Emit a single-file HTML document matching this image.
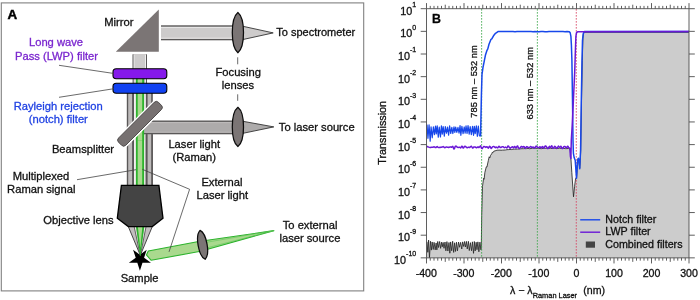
<!DOCTYPE html>
<html lang="en">
<head>
<meta charset="utf-8">
<title>Multiplexed Raman setup and filter transmission</title>
<style>
html,body{margin:0;padding:0;background:#fff;}
body{width:700px;height:300px;overflow:hidden;}
svg{display:block;font-family:"Liberation Sans",sans-serif;}
</style>
</head>
<body>
<svg width="700" height="300" viewBox="0 0 700 300">
<rect width="700" height="300" fill="#fff"/>
<g id="panelA" transform="translate(0 0.3)">
<rect x="1.3" y="2.6" width="362.4" height="288" fill="#fff" stroke="#808080" stroke-width="1.1"/>
<text x="7.6" y="18.6" font-size="13.4" font-weight="bold" fill="#000" stroke="#000" stroke-width="0.45">A</text>
<rect x="161" y="25" width="75" height="15" fill="#5a5858"/><rect x="161" y="26.4" width="75" height="12.2" fill="#e9e8e8"/><rect x="161" y="27.6" width="75" height="9.8" fill="#cdcbcb"/>
<path d="M243 26 L273.2 32.6 L243 39.2 Z" fill="#cdcbcb" stroke="#333" stroke-width="0.9" stroke-linejoin="round"/>
<path d="M237.9 12.1 C245.37 18.16 245.37 46.44 237.9 52.5 C230.43 46.44 230.43 18.16 237.9 12.1 Z" fill="#7b7575" stroke="#0c0c0c" stroke-width="1.25" stroke-linejoin="round"/>
<path d="M158.8 9.3 L158.8 51.4 L115.8 51.4 Z" fill="#7b7575"/>
<rect x="132.55" y="54" width="14.4" height="16" fill="#4a4848"/><rect x="133.45" y="54" width="12.6" height="16" fill="#f1f0f0"/><rect x="134.45" y="54" width="10.6" height="16" fill="#cdcbcb"/>
<rect x="132.6" y="77" width="14.4" height="8" fill="#fff"/>
<rect x="132.6" y="77" width="1.1" height="8" fill="#5a5858"/><rect x="145.9" y="77" width="1.1" height="8" fill="#5a5858"/>
<rect x="134.6" y="77" width="0.7" height="8" fill="#aaa"/><rect x="144.3" y="77" width="0.7" height="8" fill="#aaa"/>
<rect x="135.9" y="77" width="8.2" height="8" fill="#2db32d"/><rect x="137.7" y="77" width="4.5" height="8" fill="#a9d98e"/>
<rect x="126.8" y="92" width="7.2" height="94" fill="#5a5858"/><rect x="128.2" y="92" width="3.9" height="94" fill="#bdbaba"/><rect x="145.6" y="92" width="7.2" height="94" fill="#5a5858"/><rect x="147.6" y="92" width="3.6" height="94" fill="#bdbaba"/><rect x="134" y="92" width="11.6" height="94" fill="#f4eef0"/><rect x="135.9" y="92" width="8.2" height="94" fill="#2db32d"/><rect x="137.7" y="92" width="4.5" height="94" fill="#a9d98e"/>
<rect x="140" y="120.2" width="96" height="13.8" fill="#5a5858"/><rect x="140" y="121.6" width="96" height="11" fill="#bcbaba"/><rect x="140" y="122.8" width="96" height="8.6" fill="#adabab"/>
<path d="M243 121 L273.8 126.6 L243 133 Z" fill="#adabab" stroke="#333" stroke-width="0.9" stroke-linejoin="round"/>
<path d="M237.9 107 C245.37 112.88 245.37 140.32 237.9 146.2 C230.43 140.32 230.43 112.88 237.9 107 Z" fill="#7b7575" stroke="#0c0c0c" stroke-width="1.25" stroke-linejoin="round"/>
<rect x="145.6" y="134" width="7.2" height="52" fill="#5a5858"/><rect x="147.6" y="134" width="3.6" height="52" fill="#bdbaba"/>
<rect x="135.9" y="118" width="8.2" height="22" fill="#2db32d"/><rect x="137.7" y="118" width="4.5" height="22" fill="#a9d98e"/>
<rect x="113" y="68.5" width="53.8" height="10" rx="3.2" fill="#8519ea" stroke="#000" stroke-width="1.1"/>
<rect x="113" y="83" width="53.8" height="10" rx="3.2" fill="#1142f2" stroke="#000" stroke-width="1.1"/>
<g transform="translate(140.0 123.5) rotate(-45)"><rect x="-28.2" y="-5.1" width="56.4" height="10.2" rx="3" fill="#7b7575" stroke="#fff" stroke-width="3.4"/><rect x="-28.2" y="-5.1" width="56.4" height="10.2" rx="3" fill="#777171" stroke="#4c4848" stroke-width="0.9"/></g>
<path d="M128.2 226 L152.4 226 L140.3 255 Z" fill="#c2bfbf" stroke="#333" stroke-width="0.9" stroke-linejoin="round"/>
<path d="M134.3 226 L135.9 226 L140.3 255 Z M144.3 226 L145.9 226 L140.3 255 Z" fill="#f4eef0"/>
<path d="M134.1 226 L140.1 254.5 M146.1 226 L140.5 254.5" stroke="#4a4848" stroke-width="0.8" fill="none"/>
<path d="M135.9 226 L144.4 226 L140.3 256 Z" fill="#2db32d"/>
<path d="M137.8 226 L142.4 226 L140.3 248 Z" fill="#a9d98e"/>
<path d="M121.4 185 L158.9 185 L163 218 L152.3 226.3 L128.3 226.3 L117.3 218 Z" fill="#444" stroke="#000" stroke-width="1.3" stroke-linejoin="miter"/>
<path d="M148.3 250.7 L198.6 241.2 L273.9 230.3 L200.6 251 L151.2 260 L146.4 254.6 Z" fill="#a9d98e" stroke="#2db32d" stroke-width="1.1" stroke-linejoin="round"/>
<path d="M203 242.6 L273.9 230.3 L203 248.6" fill="none" stroke="#5fc45a" stroke-width="0.6"/>
<path d="M202.6 229.8 C208.6 234.21 208.6 254.79 202.6 259.2 C196.6 254.79 196.6 234.21 202.6 229.8 Z" fill="#7b7575" stroke="#0c0c0c" stroke-width="1.25" stroke-linejoin="round" transform="rotate(-10 202.7 244.5)"/>
<path d="M139.9 270.4 L137.31 262.36 L128.87 262.38 L135.72 257.44 L133.08 249.42 L139.9 254.4 L146.72 249.42 L144.08 257.44 L150.93 262.38 L142.49 262.36 Z" fill="#000"/>
<path d="M140.3 247 L140.3 255.5" stroke="#2db32d" stroke-width="1"/>
<g stroke="#444" stroke-width="0.8" fill="none"><path d="M59 65 L114 73.2"/><path d="M59 97 L114 88.4"/><path d="M77 179.4 L136 169.4"/><path d="M142.3 169 L189.6 189 L169 251.6"/><path d="M237.7 57 L237.7 64"/><path d="M237.7 94 L237.7 100.5"/></g>
<g id="panelA-labels" stroke-width="0.3">
<text x="104.2" y="25.8" text-anchor="start" fill="#111" stroke="#111" font-size="11.2">Mirror</text>
<text x="276.3" y="36" text-anchor="start" fill="#111" stroke="#111" font-size="11.0">To spectrometer</text>
<text x="56" y="46" text-anchor="middle" fill="#7b27cf" stroke="#7b27cf" font-size="11.2">Long wave</text>
<text x="56.5" y="59.4" text-anchor="middle" fill="#7b27cf" stroke="#7b27cf" font-size="11.2">Pass (LWP) filter</text>
<text x="58.2" y="109.6" text-anchor="middle" fill="#2143e3" stroke="#2143e3" font-size="11.2">Rayleigh rejection</text>
<text x="58.3" y="123.2" text-anchor="middle" fill="#2143e3" stroke="#2143e3" font-size="11.2">(notch) filter</text>
<text x="238.2" y="76" text-anchor="middle" fill="#111" stroke="#111" font-size="11.2">Focusing</text>
<text x="238" y="89" text-anchor="middle" fill="#111" stroke="#111" font-size="11.2">lenses</text>
<text x="278.8" y="130.4" text-anchor="start" fill="#111" stroke="#111" font-size="11.2">To laser source</text>
<text x="83" y="152.6" text-anchor="middle" fill="#111" stroke="#111" font-size="11.2">Beamsplitter</text>
<text x="194.2" y="147.4" text-anchor="middle" fill="#111" stroke="#111" font-size="11.2">Laser light</text>
<text x="194.2" y="160.9" text-anchor="middle" fill="#111" stroke="#111" font-size="11.2">(Raman)</text>
<text x="41" y="179.4" text-anchor="middle" fill="#111" stroke="#111" font-size="11.2">Multiplexed</text>
<text x="41.3" y="193" text-anchor="middle" fill="#111" stroke="#111" font-size="11.2">Raman signal</text>
<text x="221.9" y="186.1" text-anchor="middle" fill="#111" stroke="#111" font-size="11.2">External</text>
<text x="222.3" y="199.2" text-anchor="middle" fill="#111" stroke="#111" font-size="11.2">Laser light</text>
<text x="78.5" y="223.5" text-anchor="middle" fill="#111" stroke="#111" font-size="11.2">Objective lens</text>
<text x="310.1" y="228.7" text-anchor="middle" fill="#111" stroke="#111" font-size="11.2">To external</text>
<text x="309.9" y="242" text-anchor="middle" fill="#111" stroke="#111" font-size="11.2">laser source</text>
<text x="139.6" y="282.2" text-anchor="middle" fill="#111" stroke="#111" font-size="11.2">Sample</text>
</g>
</g>
<g id="panelB" transform="translate(0 0.3)">
<path d="M427 241.48 L427.81 252 L428.59 239.8 L429.49 257.3 L430.44 240.97 L431.36 249.82 L432.15 241.66 L433.23 249.18 L434.07 242.03 L435.2 249.55 L436.11 242.66 L436.87 249.59 L437.74 241.16 L438.54 247.22 L439.61 241.23 L440.6 248.05 L441.5 241.89 L442.27 246.49 L443.1 242.12 L444.02 248 L445.01 241.72 L445.88 250.52 L446.91 241.34 L447.89 250.73 L448.99 242.21 L449.85 252.92 L450.65 241.65 L451.7 250.48 L452.65 240.97 L453.67 252.11 L454.65 242.48 L455.52 251.11 L456.51 241.94 L457.44 250.54 L458.57 241.75 L459.58 246.95 L460.62 242.06 L461.76 248.71 L462.63 241.59 L463.64 246.13 L464.58 241.2 L465.38 246.69 L466.43 241.13 L467.28 248.63 L468.38 241.05 L469.31 250.25 L470.41 242.37 L471.51 250.41 L472.42 241.55 L473.53 253.04 L474.34 241.22 L475.18 250.65 L476.13 241.96 L476.98 249.38 L477.9 241.56 L478.87 251.49 L479.9 241.83 L480.9 249.49 L481.3 246 L481.7 215 L482.5 186 L483.6 178 L484.1 179 L484.9 172 L486.3 166.5 L486.9 166.8 L488.4 160 L489.2 156.5 L489.8 157.6 L490.6 155 L491.7 153.6 L492.3 152 L493 152.4 L493.9 150.8 L495 150.6 L497 149.9 L500 149.8 L501 149.95 L502.5 149.81 L504 149.77 L505.5 149.66 L507 149.37 L508.5 149.3 L510 149.07 L511.5 149.26 L513 148.89 L514.5 148.81 L516 148.8 L517.5 148.7 L519 148.71 L520.5 148.49 L522 148.38 L523.5 148.38 L525 148.27 L526.5 148.32 L528 148.08 L529.5 148.42 L531 148.21 L532.5 147.92 L534 147.98 L535.5 148.02 L537 148.03 L538.5 147.91 L540 148.27 L541.5 148.35 L543 148.08 L544.5 148.09 L546 147.89 L547.5 147.9 L549 148.02 L550.5 147.98 L552 148.26 L553.5 147.93 L555 147.86 L556.5 148.33 L558 148.11 L559.5 147.92 L561 148.12 L562.5 147.86 L564 148.11 L565.5 148.34 L567 148.28 L568.5 148.2 L570.2 149 L570.9 158 L571.8 172 L573.5 196.5 L574.6 186 L575.6 178 L576.5 178.5 L577.4 166 L578 158.5 L578.8 160 L579.7 168 L580.3 160 L580.7 150 L581.5 100 L582.3 60 L582.9 38 L583.6 32.3 L585 32 L689 32 L689 257.55 L427 257.55 Z" fill="#cccccc"/>
<path d="M427 241.48 L427.81 252 L428.59 239.8 L429.49 257.3 L430.44 240.97 L431.36 249.82 L432.15 241.66 L433.23 249.18 L434.07 242.03 L435.2 249.55 L436.11 242.66 L436.87 249.59 L437.74 241.16 L438.54 247.22 L439.61 241.23 L440.6 248.05 L441.5 241.89 L442.27 246.49 L443.1 242.12 L444.02 248 L445.01 241.72 L445.88 250.52 L446.91 241.34 L447.89 250.73 L448.99 242.21 L449.85 252.92 L450.65 241.65 L451.7 250.48 L452.65 240.97 L453.67 252.11 L454.65 242.48 L455.52 251.11 L456.51 241.94 L457.44 250.54 L458.57 241.75 L459.58 246.95 L460.62 242.06 L461.76 248.71 L462.63 241.59 L463.64 246.13 L464.58 241.2 L465.38 246.69 L466.43 241.13 L467.28 248.63 L468.38 241.05 L469.31 250.25 L470.41 242.37 L471.51 250.41 L472.42 241.55 L473.53 253.04 L474.34 241.22 L475.18 250.65 L476.13 241.96 L476.98 249.38 L477.9 241.56 L478.87 251.49 L479.9 241.83 L480.9 249.49 L481.3 246 L481.7 215 L482.5 186 L483.6 178 L484.1 179 L484.9 172 L486.3 166.5 L486.9 166.8 L488.4 160 L489.2 156.5 L489.8 157.6 L490.6 155 L491.7 153.6 L492.3 152 L493 152.4 L493.9 150.8 L495 150.6 L497 149.9 L500 149.8 L501 149.95 L502.5 149.81 L504 149.77 L505.5 149.66 L507 149.37 L508.5 149.3 L510 149.07 L511.5 149.26 L513 148.89 L514.5 148.81 L516 148.8 L517.5 148.7 L519 148.71 L520.5 148.49 L522 148.38 L523.5 148.38 L525 148.27 L526.5 148.32 L528 148.08 L529.5 148.42 L531 148.21 L532.5 147.92 L534 147.98 L535.5 148.02 L537 148.03 L538.5 147.91 L540 148.27 L541.5 148.35 L543 148.08 L544.5 148.09 L546 147.89 L547.5 147.9 L549 148.02 L550.5 147.98 L552 148.26 L553.5 147.93 L555 147.86 L556.5 148.33 L558 148.11 L559.5 147.92 L561 148.12 L562.5 147.86 L564 148.11 L565.5 148.34 L567 148.28 L568.5 148.2 L570.2 149 L570.9 158 L571.8 172 L573.5 196.5 L574.6 186 L575.6 178 L576.5 178.5 L577.4 166 L578 158.5 L578.8 160 L579.7 168 L580.3 160 L580.7 150 L581.5 100 L582.3 60 L582.9 38 L583.6 32.3 L585 32 L689 32" fill="none" stroke="#262626" stroke-width="0.85" stroke-linejoin="round"/>
<path d="M481.6 8.9 V257.55" stroke="#3aa648" stroke-width="1.1" stroke-dasharray="1.2 1.8" fill="none"/>
<path d="M537.4 8.9 V257.55" stroke="#3aa648" stroke-width="1.1" stroke-dasharray="1.2 1.8" fill="none"/>
<path d="M576.3 8.9 V257.55" stroke="#d8405f" stroke-width="1.1" stroke-dasharray="1.2 1.8" fill="none"/>
<path d="M427 124.3 L427.95 138 L429.06 124.6 L430.17 140.8 L431.06 126.64 L432.25 137.5 L433.37 126.65 L434.47 134.35 L435.48 125.78 L436.29 133.69 L437.2 125.59 L438.28 136.8 L439.25 126.88 L440.45 136.65 L441.4 125.52 L442.29 133.89 L443.17 126.29 L444.33 135.83 L445.32 126.34 L446.44 132.97 L447.5 126.83 L448.62 134.92 L449.61 125.44 L450.72 133.22 L451.84 126.95 L452.8 133.23 L453.98 126.48 L454.85 132.13 L455.71 126.82 L456.83 132.11 L457.96 126.96 L459.03 132.8 L460.05 125.35 L460.85 134.98 L461.91 126.1 L463.08 133.33 L464.23 126.67 L465.12 132.93 L466.04 125.56 L467.07 133.21 L468.04 125.35 L469.2 133.83 L470.18 126.21 L471.35 134.36 L472.51 126.05 L473.53 134.98 L474.33 125.94 L475.21 133.39 L476.33 125.43 L477.32 135.99 L478.34 125.72 L479.35 135.48 L480.6 136" fill="none" stroke="#1747ea" stroke-width="1.2" stroke-linejoin="round"/>
<path d="M480.6 136 L480.9 120 L481.4 95 L482 74 L483 67 L484 62 L485.4 55 L487 50 L487.8 48.6 L489 44 L491 39 L491.8 38.6 L493.5 35.5 L495.5 33 L498 31.3 L499 31.16 L501 31.26 L503 31.19 L505 31.2 L507 31.32 L509 31.25 L511 31.26 L513 31.31 L515 31.35 L517 31.24 L519 31.28 L521 31.25 L523 31.25 L525 31.3 L527 31.24 L529 31.26 L531 31.24 L533 31.36 L535 31.3 L537 31.34 L539 31.36 L541 31.19 L543 31.26 L545 31.36 L547 31.33 L549 31.16 L551 31.16 L553 31.24 L555 31.15 L557 31.19 L559 31.15 L561 31.29 L563 31.32 L565 31.35 L567 31.17 L569.3 31.4 L570.2 32.5 L570.9 36 L571.4 45 L571.9 60 L572.5 100 L573 140 L573.4 153 L574.2 157.5 L575.2 160 L576.5 178 L577.6 160 L578.4 158 L579 160 L579.7 168.5 L580.2 158 L580.6 150 L581.3 100 L582 60 L582.5 40 L583.2 33.5 L584.3 31.3 L689 31.3" fill="none" stroke="#1747ea" stroke-width="1.5" stroke-linejoin="round"/>
<path d="M427 146.97 L427.6 146.17 L428.2 146.52 L428.8 146.83 L429.4 147.1 L430 147.27 L430.6 147.21 L431.2 146.91 L431.8 146.88 L432.4 146.98 L433 146.95 L433.6 146.6 L434.2 146.43 L434.8 146.92 L435.4 147.19 L436 147.16 L436.6 146.55 L437.2 146.29 L437.8 146.77 L438.4 147.19 L439 147.22 L439.6 147.05 L440.2 147.16 L440.8 146.86 L441.4 146.89 L442 146.75 L442.6 146.65 L443.2 146.29 L443.8 146.74 L444.4 147.25 L445 147.42 L445.6 147.02 L446.2 146.72 L446.8 146.77 L447.4 146.85 L448 146.91 L448.6 147.15 L449.2 146.96 L449.8 146.78 L450.4 146.56 L451 146.79 L451.6 147.05 L452.2 146.34 L452.8 146.06 L453.4 147.69 L454 148.77 L454.6 148.02 L455.2 146.15 L455.8 145.8 L456.4 145.96 L457 146.66 L457.6 146.97 L458.2 147.23 L458.8 147.04 L459.4 146.88 L460 147.18 L460.6 147.57 L461.2 146.92 L461.8 145.89 L462.4 146.37 L463 147.64 L463.6 147.66 L464.2 146.61 L464.8 145.94 L465.4 146.11 L466 146.69 L466.6 147.02 L467.2 147.49 L467.8 147.31 L468.4 146.93 L469 146.82 L469.6 147.21 L470.2 146.82 L470.8 146.14 L471.4 145.97 L472 146.84 L472.6 147.66 L473.2 147.48 L473.8 146.61 L474.4 146.66 L475 146.69 L475.6 146.98 L476.2 147.47 L476.8 147.37 L477.4 146.82 L478 146.53 L478.6 147.09 L479.2 147.11 L479.8 146.34 L480.4 145.61 L481 146.58 L481.6 148.08 L482.2 148.31 L482.8 147.32 L483.4 146.57 L484 146.2 L484.6 146.35 L485.2 146.65 L485.8 147.08 L486.4 146.67 L487 146.37 L487.6 146.98 L488.2 147.83 L488.8 147.2 L489.4 145.95 L490 146.08 L490.6 147.5 L491.2 148.06 L491.8 147.53 L492.4 146.61 L493 146.3 L493.6 146.13 L494.2 146.39 L494.8 147.03 L495.4 147.41 L496 146.8 L496.6 146.93 L497.2 147.51 L497.8 147.58 L498.4 146.57 L499 145.96 L499.6 146.42 L500.2 147.26 L500.8 147.17 L501.4 146.9 L502 146.54 L502.6 146.4 L503.2 146.41 L503.8 147.01 L504.4 147.47 L505 147.03 L505.6 146.76 L506.2 147.22 L506.8 147.67 L507.4 146.79 L508 145.65 L508.6 145.86 L509.2 146.88 L509.8 147.63 L510.4 147.85 L511 147.29 L511.6 146.9 L512.2 146.44 L512.8 146.66 L513.4 147.54 L514 147.15 L514.6 146.19 L515.2 146.56 L515.8 147.69 L516.4 147.33 L517 146.08 L517.6 145.64 L518.2 146.8 L518.8 147.89 L519.4 148.17 L520 147.79 L520.6 147.13 L521.2 146.18 L521.8 146.11 L522.4 146.7 L523 146.85 L523.6 146.3 L524.2 146.4 L524.8 147.35 L525.4 148.07 L526 147.18 L526.6 146.32 L527.2 146.44 L527.8 147.04 L528.4 147.3 L529 147.16 L529.6 147.11 L530.2 146.5 L530.8 146.16 L531.4 146.71 L532 147.29 L532.6 146.87 L533.2 146.74 L533.8 147.14 L534.4 147.79 L535 147.45 L535.6 146.45 L536.2 145.79 L536.8 146.31 L537.4 146.95 L538 147.28 L538.6 147.45 L539.2 147.01 L539.8 146.42 L540.4 146.75 L541 147.58 L541.6 147.46 L542.2 146.32 L542.8 146.37 L543.4 147.51 L544 147.86 L544.6 146.51 L545.2 145.59 L545.8 145.63 L546.4 146.46 L547 147.42 L547.6 148.23 L548.2 148.26 L548.8 146.81 L549.4 146.09 L550 147 L550.6 147.26 L551.2 146.06 L551.8 145.4 L552.4 146.95 L553 148.01 L553.6 147.77 L554.2 146.61 L554.8 146 L555.4 146.5 L556 147.24 L556.6 148.03 L557.2 147.95 L557.8 146.81 L558.4 145.81 L559 146.41 L559.6 146.94 L560.2 146.68 L560.8 145.88 L561.4 146.66 L562 148.16 L562.6 148.17 L563.2 147.44 L563.8 146.45 L564.4 146.21 L565 146.28 L565.6 146.85 L566.2 147.78 L566.8 147.22 L567.4 145.94 L568 145.98 L568.6 147.33 L569.2 147.54 L569.9 148 L570.4 156 L570.9 158.3 L571.3 140 L572.2 125 L573.4 100 L574.7 72 L575.4 50 L575.9 36 L576.6 32.2 L578 31.4 L689 31.3" fill="none" stroke="#6a18d6" stroke-width="1.5" stroke-linejoin="round"/>
<path d="M426.5 8.4 H689 V257.55 H426.5 Z M426.5 8.4 v-5.6 M426.5 257.55 v5.6 M430.25 8.4 v-2.8 M430.25 257.55 v2.8 M434 8.4 v-2.8 M434 257.55 v2.8 M437.75 8.4 v-2.8 M437.75 257.55 v2.8 M441.5 8.4 v-2.8 M441.5 257.55 v2.8 M445.25 8.4 v-4 M445.25 257.55 v4 M449 8.4 v-2.8 M449 257.55 v2.8 M452.75 8.4 v-2.8 M452.75 257.55 v2.8 M456.5 8.4 v-2.8 M456.5 257.55 v2.8 M460.25 8.4 v-2.8 M460.25 257.55 v2.8 M464 8.4 v-5.6 M464 257.55 v5.6 M467.75 8.4 v-2.8 M467.75 257.55 v2.8 M471.5 8.4 v-2.8 M471.5 257.55 v2.8 M475.25 8.4 v-2.8 M475.25 257.55 v2.8 M479 8.4 v-2.8 M479 257.55 v2.8 M482.75 8.4 v-4 M482.75 257.55 v4 M486.5 8.4 v-2.8 M486.5 257.55 v2.8 M490.25 8.4 v-2.8 M490.25 257.55 v2.8 M494 8.4 v-2.8 M494 257.55 v2.8 M497.75 8.4 v-2.8 M497.75 257.55 v2.8 M501.5 8.4 v-5.6 M501.5 257.55 v5.6 M505.25 8.4 v-2.8 M505.25 257.55 v2.8 M509 8.4 v-2.8 M509 257.55 v2.8 M512.75 8.4 v-2.8 M512.75 257.55 v2.8 M516.5 8.4 v-2.8 M516.5 257.55 v2.8 M520.25 8.4 v-4 M520.25 257.55 v4 M524 8.4 v-2.8 M524 257.55 v2.8 M527.75 8.4 v-2.8 M527.75 257.55 v2.8 M531.5 8.4 v-2.8 M531.5 257.55 v2.8 M535.25 8.4 v-2.8 M535.25 257.55 v2.8 M539 8.4 v-5.6 M539 257.55 v5.6 M542.75 8.4 v-2.8 M542.75 257.55 v2.8 M546.5 8.4 v-2.8 M546.5 257.55 v2.8 M550.25 8.4 v-2.8 M550.25 257.55 v2.8 M554 8.4 v-2.8 M554 257.55 v2.8 M557.75 8.4 v-4 M557.75 257.55 v4 M561.5 8.4 v-2.8 M561.5 257.55 v2.8 M565.25 8.4 v-2.8 M565.25 257.55 v2.8 M569 8.4 v-2.8 M569 257.55 v2.8 M572.75 8.4 v-2.8 M572.75 257.55 v2.8 M576.5 8.4 v-5.6 M576.5 257.55 v5.6 M580.25 8.4 v-2.8 M580.25 257.55 v2.8 M584 8.4 v-2.8 M584 257.55 v2.8 M587.75 8.4 v-2.8 M587.75 257.55 v2.8 M591.5 8.4 v-2.8 M591.5 257.55 v2.8 M595.25 8.4 v-4 M595.25 257.55 v4 M599 8.4 v-2.8 M599 257.55 v2.8 M602.75 8.4 v-2.8 M602.75 257.55 v2.8 M606.5 8.4 v-2.8 M606.5 257.55 v2.8 M610.25 8.4 v-2.8 M610.25 257.55 v2.8 M614 8.4 v-5.6 M614 257.55 v5.6 M617.75 8.4 v-2.8 M617.75 257.55 v2.8 M621.5 8.4 v-2.8 M621.5 257.55 v2.8 M625.25 8.4 v-2.8 M625.25 257.55 v2.8 M629 8.4 v-2.8 M629 257.55 v2.8 M632.75 8.4 v-4 M632.75 257.55 v4 M636.5 8.4 v-2.8 M636.5 257.55 v2.8 M640.25 8.4 v-2.8 M640.25 257.55 v2.8 M644 8.4 v-2.8 M644 257.55 v2.8 M647.75 8.4 v-2.8 M647.75 257.55 v2.8 M651.5 8.4 v-5.6 M651.5 257.55 v5.6 M655.25 8.4 v-2.8 M655.25 257.55 v2.8 M659 8.4 v-2.8 M659 257.55 v2.8 M662.75 8.4 v-2.8 M662.75 257.55 v2.8 M666.5 8.4 v-2.8 M666.5 257.55 v2.8 M670.25 8.4 v-4 M670.25 257.55 v4 M674 8.4 v-2.8 M674 257.55 v2.8 M677.75 8.4 v-2.8 M677.75 257.55 v2.8 M681.5 8.4 v-2.8 M681.5 257.55 v2.8 M685.25 8.4 v-2.8 M685.25 257.55 v2.8 M689 8.4 v-5.6 M689 257.55 v5.6 M426.5 8.4 h-5.8 M689 8.4 h5.8 M426.5 31.05 h-5.8 M689 31.05 h5.8 M426.5 53.7 h-5.8 M689 53.7 h5.8 M426.5 76.35 h-5.8 M689 76.35 h5.8 M426.5 99 h-5.8 M689 99 h5.8 M426.5 121.65 h-5.8 M689 121.65 h5.8 M426.5 144.3 h-5.8 M689 144.3 h5.8 M426.5 166.95 h-5.8 M689 166.95 h5.8 M426.5 189.6 h-5.8 M689 189.6 h5.8 M426.5 212.25 h-5.8 M689 212.25 h5.8 M426.5 234.9 h-5.8 M689 234.9 h5.8 M426.5 257.55 h-5.8 M689 257.55 h5.8" fill="none" stroke="#4d4d4d" stroke-width="0.9"/>
<g id="panelB-labels" stroke="#111" stroke-width="0.3">
<text x="416.2" y="14.5" text-anchor="end" font-size="10.8" fill="#111">10<tspan font-size="7" dy="-7.7">1</tspan></text>
<text x="416.2" y="37.15" text-anchor="end" font-size="10.8" fill="#111">10<tspan font-size="7" dy="-7.7">0</tspan></text>
<text x="416.2" y="59.8" text-anchor="end" font-size="10.8" fill="#111">10<tspan font-size="7" dy="-7.7">-1</tspan></text>
<text x="416.2" y="82.45" text-anchor="end" font-size="10.8" fill="#111">10<tspan font-size="7" dy="-7.7">-2</tspan></text>
<text x="416.2" y="105.1" text-anchor="end" font-size="10.8" fill="#111">10<tspan font-size="7" dy="-7.7">-3</tspan></text>
<text x="416.2" y="127.75" text-anchor="end" font-size="10.8" fill="#111">10<tspan font-size="7" dy="-7.7">-4</tspan></text>
<text x="416.2" y="150.4" text-anchor="end" font-size="10.8" fill="#111">10<tspan font-size="7" dy="-7.7">-5</tspan></text>
<text x="416.2" y="173.05" text-anchor="end" font-size="10.8" fill="#111">10<tspan font-size="7" dy="-7.7">-6</tspan></text>
<text x="416.2" y="195.7" text-anchor="end" font-size="10.8" fill="#111">10<tspan font-size="7" dy="-7.7">-7</tspan></text>
<text x="416.2" y="218.35" text-anchor="end" font-size="10.8" fill="#111">10<tspan font-size="7" dy="-7.7">-8</tspan></text>
<text x="416.2" y="241" text-anchor="end" font-size="10.8" fill="#111">10<tspan font-size="7" dy="-7.7">-9</tspan></text>
<text x="416.2" y="263.65" text-anchor="end" font-size="10.8" fill="#111">10<tspan font-size="7" dy="-7.7">-10</tspan></text>
<text x="426.3" y="276.9" text-anchor="middle" font-size="10.6" fill="#111">-400</text>
<text x="463.8" y="276.9" text-anchor="middle" font-size="10.6" fill="#111">-300</text>
<text x="501.3" y="276.9" text-anchor="middle" font-size="10.6" fill="#111">-200</text>
<text x="538.8" y="276.9" text-anchor="middle" font-size="10.6" fill="#111">-100</text>
<text x="576.5" y="276.9" text-anchor="middle" font-size="10.6" fill="#111">0</text>
<text x="614" y="276.9" text-anchor="middle" font-size="10.6" fill="#111">100</text>
<text x="651.5" y="276.9" text-anchor="middle" font-size="10.6" fill="#111">200</text>
<text x="689" y="276.9" text-anchor="middle" font-size="10.6" fill="#111">300</text>
<text transform="translate(386.4 132.5) rotate(-90)" text-anchor="middle" font-size="10.8" fill="#111">Transmission</text>
<text x="510" y="293.7" font-size="10.6" fill="#111">λ − λ<tspan font-size="7.4" dy="3.8">Raman Laser</tspan><tspan dy="-3.8" dx="6.2">(nm)</tspan></text>
<text x="432" y="23" font-size="12.4" font-weight="bold" fill="#000">B</text>
<text transform="translate(477 81.2) rotate(-90)" text-anchor="middle" font-size="9.3" fill="#111">785 nm – 532 nm</text>
<text transform="translate(533.4 83) rotate(-90)" text-anchor="middle" font-size="9.3" fill="#111">633 nm – 532 nm</text>
<path d="M580.2 219.5 H600.2" stroke="#1747ea" stroke-width="1.4"/>
<path d="M580.2 231.9 H600.2" stroke="#6a18d6" stroke-width="1.4"/>
<rect x="585.8" y="241.2" width="9.2" height="6.2" fill="#444" stroke="none"/>
<text x="605.3" y="223" font-size="10.7" fill="#111">Notch filter</text>
<text x="605.3" y="235.2" font-size="10.7" fill="#111">LWP filter</text>
<text x="605.3" y="247.3" font-size="10.7" fill="#111">Combined filters</text>
</g>
</g>
</svg>
</body>
</html>
